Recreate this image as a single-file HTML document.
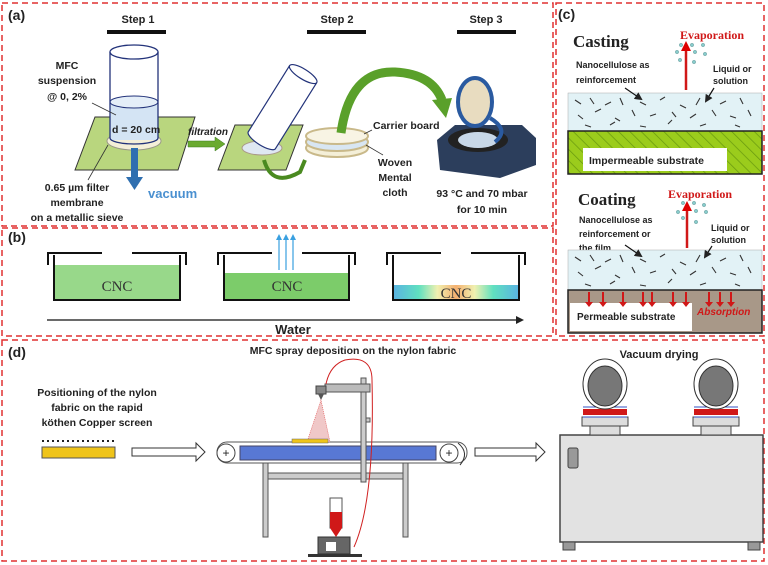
<!DOCTYPE html>
<html><head><meta charset="utf-8"><style>
html,body{margin:0;padding:0;background:#fff}
svg{display:block}
text{font-family:"Liberation Sans",Arial,sans-serif;font-weight:bold;fill:#222}
text.s{font-family:"Liberation Serif",serif}
</style></head><body>
<svg width="768" height="565" viewBox="0 0 768 565" xmlns="http://www.w3.org/2000/svg">
<defs>
<pattern id="hatch" width="8" height="8" patternUnits="userSpaceOnUse" patternTransform="rotate(-45)">
<rect width="8" height="8" fill="#9bcc1c"/><line x1="0" y1="0" x2="0" y2="8" stroke="#6a9a10" stroke-width="1.5"/></pattern>
<linearGradient id="cnc3" x1="0" x2="1"><stop offset="0" stop-color="#5ab4e0"/><stop offset="0.2" stop-color="#60e0c0"/><stop offset="0.35" stop-color="#f0f0b0"/><stop offset="0.5" stop-color="#f4b070"/><stop offset="0.65" stop-color="#f0f0b0"/><stop offset="0.8" stop-color="#60e0c0"/><stop offset="1" stop-color="#5ab4e0"/></linearGradient>
<marker id="ah" markerUnits="userSpaceOnUse" markerWidth="8" markerHeight="8" refX="6" refY="4" orient="auto"><path d="M0,0 L8,4 L0,8z" fill="#222"/></marker>
<marker id="ahr" markerUnits="userSpaceOnUse" markerWidth="10" markerHeight="10" refX="6" refY="5" orient="auto"><path d="M0,0 L10,5 L0,10z" fill="#d00"/></marker>
<marker id="ahb" markerUnits="userSpaceOnUse" markerWidth="6" markerHeight="6" refX="4" refY="3" orient="auto"><path d="M0,0 L6,3 L0,6z" fill="#3aa0e0"/></marker>
</defs>
<g fill="none" stroke="#e03030" stroke-width="1.5" stroke-dasharray="6,4">
<rect x="2" y="3" width="551" height="223"/>
<rect x="2" y="228" width="551" height="108"/>
<rect x="556" y="3" width="208" height="333"/>
<rect x="2" y="340" width="762" height="221"/>
</g>
<!-- (a) -->
<text x="8" y="20" font-size="14">(a)</text>
<text x="138" y="23" font-size="11" text-anchor="middle">Step 1</text>
<rect x="107" y="30" width="59" height="4" fill="#111"/>
<text x="337" y="23" font-size="11" text-anchor="middle">Step 2</text>
<rect x="307" y="30" width="59" height="4" fill="#111"/>
<text x="486" y="23" font-size="11" text-anchor="middle">Step 3</text>
<rect x="457" y="30" width="59" height="4" fill="#111"/>
<polygon points="75,170 95,117 195,117 178,170" fill="#b9d67e" stroke="#333"/>
<ellipse cx="134" cy="141" rx="27" ry="9" fill="#f4efd8" stroke="#998"/>
<rect x="110" y="102" width="48" height="38" fill="#d4e4f4"/>
<ellipse cx="134" cy="102" rx="24" ry="6" fill="#e4eef8" stroke="#23337a"/>
<path d="M110,52 V138 A24,6 0 0 0 158,138 V52" fill="none" stroke="#23337a" stroke-width="1.3"/>
<ellipse cx="134" cy="52" rx="24" ry="7" fill="#fff" stroke="#23337a" stroke-width="1.3"/>
<rect x="131" y="148" width="7" height="30" fill="#2f6fb0"/>
<polygon points="126,177 143,177 134.5,190" fill="#2f6fb0"/>
<text x="148" y="198" font-size="13" style="fill:#4a90d0">vacuum</text>
<g font-size="10.5" text-anchor="middle"><text x="67" y="69">MFC</text><text x="67" y="84">suspension</text><text x="67" y="100">@ 0, 2%</text>
<text x="77" y="191">0.65 µm filter</text><text x="77" y="206">membrane</text><text x="77" y="221">on a metallic sieve</text></g>
<text x="112" y="133" font-size="10.5">d = 20 cm</text>
<text x="188" y="135" font-size="10" font-style="italic">filtration</text>
<line x1="92" y1="103" x2="116" y2="115" stroke="#333" stroke-width="0.8"/>
<line x1="88" y1="180" x2="108" y2="145" stroke="#333" stroke-width="0.8"/>
<polygon points="188,141 215,141 215,137 225,144 215,151 215,147 188,147" fill="#6aaa30" stroke="#3a7a20" stroke-width="0.5"/>
<polygon points="218,170 235,125 303,125 286,170" fill="#b9d67e" stroke="#333"/>
<ellipse cx="262" cy="148" rx="20" ry="7" fill="#dfe8f2" stroke="#a98"/>
<g transform="rotate(32 282 108)"><path d="M266,68 V146 A16,5 0 0 0 298,146 V68" fill="#fff" stroke="#23337a" stroke-width="1.2"/><ellipse cx="282" cy="68" rx="16" ry="5" fill="#fff" stroke="#23337a" stroke-width="1.2"/></g>
<path d="M264,160 Q272,188 300,172 L305,160" fill="none" stroke="#4a8a20" stroke-width="4"/>
<ellipse cx="337" cy="148" rx="31" ry="9" fill="#f4efd8" stroke="#c9b98a" stroke-width="2"/>
<ellipse cx="337" cy="142" rx="31" ry="9" fill="#d8e6f2" stroke="#c9b98a" stroke-width="2"/>
<ellipse cx="337" cy="136" rx="31" ry="8" fill="#f8f4e4" stroke="#c9b98a" stroke-width="2"/>
<path d="M341,133 Q350,70 395,72 Q432,74 442,100" fill="none" stroke="#5aa02a" stroke-width="9"/>
<polygon points="432,100 452,98 446,118" fill="#5aa02a"/>
<text x="373" y="129" font-size="10.5">Carrier board</text>
<g font-size="10.5" text-anchor="middle"><text x="395" y="166">Woven</text><text x="395" y="181">Mental</text><text x="395" y="196">cloth</text>
<text x="482" y="197">93 °C and 70 mbar</text><text x="482" y="213">for 10 min</text></g>
<line x1="372" y1="130" x2="364" y2="134" stroke="#333" stroke-width="0.8"/>
<line x1="383" y1="155" x2="366" y2="145" stroke="#333" stroke-width="0.8"/>
<path d="M437,140 L455,125 L522,125 L536,138 L536,165 L500,178 L440,170 Z" fill="#2c3e5c"/>
<ellipse cx="478" cy="140" rx="30" ry="12" fill="#222"/>
<ellipse cx="478" cy="140" rx="20" ry="8" fill="#c8d8e8"/>
<ellipse cx="475" cy="102" rx="17" ry="24" fill="#e8dcc0" stroke="#2a5aa0" stroke-width="4"/>
<path d="M490,118 Q510,130 495,142" fill="none" stroke="#2a5aa0" stroke-width="4"/>
<!-- (b) -->
<text x="8" y="242" font-size="14">(b)</text>
<rect x="55" y="265" width="124" height="34" fill="#98d88a"/>
<rect x="225" y="273" width="123" height="26" fill="#7ccc6a"/>
<rect x="394" y="285" width="124" height="14" fill="url(#cnc3)"/>
<g stroke="#111" stroke-width="2" fill="none">
<path d="M48,265 V253 H102 M132,253 H186 V265"/><path d="M54,255 V300 H180 V255"/>
<path d="M218,265 V253 H272 M302,253 H355 V265"/><path d="M224,255 V300 H349 V255"/>
<path d="M387,265 V253 H441 M471,253 H525 V265"/><path d="M393,255 V300 H519 V255"/>
</g>
<g font-size="15" text-anchor="middle"><text class="s" x="117" y="291" style="font-weight:normal;fill:#333">CNC</text><text class="s" x="287" y="291" style="font-weight:normal;fill:#333">CNC</text><text class="s" x="456" y="298" style="font-weight:normal;fill:#333">CNC</text></g>
<g stroke="#3aa0e0" stroke-width="1.2"><line x1="279" y1="270" x2="279" y2="236" marker-end="url(#ahb)"/><line x1="286" y1="270" x2="286" y2="236" marker-end="url(#ahb)"/><line x1="293" y1="270" x2="293" y2="236" marker-end="url(#ahb)"/></g>
<line x1="47" y1="320" x2="522" y2="320" stroke="#111" stroke-width="1.2" marker-end="url(#ah)"/>
<text x="293" y="334" font-size="13" text-anchor="middle">Water</text>
<!-- (c) -->
<text x="558" y="19" font-size="14">(c)</text>
<text x="573" y="47" class="s" font-size="17">Casting</text>
<text x="712" y="39" class="s" font-size="12" text-anchor="middle" style="fill:#d01818">Evaporation</text>
<line x1="686" y1="90" x2="686" y2="45" stroke="#d01818" stroke-width="2.5" marker-end="url(#ahr)"/>
<g fill="#8cc" stroke="#699" stroke-width="0.5"><circle cx="681" cy="45" r="1.7"/><circle cx="692" cy="45" r="1.7"/><circle cx="703" cy="45" r="1.7"/><circle cx="677" cy="52" r="1.7"/><circle cx="695" cy="52" r="1.7"/><circle cx="705" cy="54" r="1.7"/><circle cx="680" cy="60" r="1.7"/><circle cx="694" cy="62" r="1.7"/></g>
<g font-size="9"><text x="576" y="68">Nanocellulose as</text><text x="576" y="83">reinforcement</text><text x="713" y="72">Liquid or</text><text x="713" y="84">solution</text>
<text x="579" y="223">Nanocellulose as</text><text x="579" y="237">reinforcement or</text><text x="579" y="251">the film</text><text x="711" y="231">Liquid or</text><text x="711" y="243">solution</text></g>
<rect x="568" y="93" width="194" height="38" fill="#e2f2f6" stroke="#aaa" stroke-width="0.5"/>
<rect x="568" y="250" width="194" height="40" fill="#e2f2f6" stroke="#aaa" stroke-width="0.5"/>
<g stroke="#333" stroke-width="1.1" fill="none">
<path d="M575,100 l6,4 M590,98 l4,6 M605,105 l6,-3 M620,98 l3,7 M640,102 l6,3 M660,100 l5,-3 M680,105 l6,3 M700,98 l-4,7 M720,104 l6,-3 M740,98 l3,6 M578,115 l5,4 M595,112 l6,-3 M615,118 l5,3 M632,110 l3,6 M650,116 l6,-2 M672,112 l4,5 M690,118 l6,-4 M712,110 l4,6 M730,116 l6,2 M748,110 l3,6 M585,125 l6,2 M610,125 l5,-3 M640,126 l6,1 M668,124 l4,-4 M700,126 l6,-2 M735,125 l5,2"/>
<path d="M575,257 l6,4 M590,255 l4,6 M605,262 l6,-3 M620,255 l3,7 M640,259 l6,3 M660,257 l5,-3 M680,262 l6,3 M700,255 l-4,7 M720,261 l6,-3 M740,255 l3,6 M578,272 l5,4 M595,269 l6,-3 M615,275 l5,3 M632,267 l3,6 M650,273 l6,-2 M672,269 l4,5 M690,275 l6,-4 M712,267 l4,6 M730,273 l6,2 M748,267 l3,6 M585,284 l6,2 M610,284 l5,-3 M640,285 l6,1 M668,283 l4,-4 M700,285 l6,-2 M735,284 l5,2"/>
</g>
<line x1="625" y1="88" x2="641" y2="99" stroke="#111" stroke-width="1.2" marker-end="url(#ah)"/>
<line x1="714" y1="88" x2="706" y2="101" stroke="#111" stroke-width="1.2" marker-end="url(#ah)"/>
<rect x="568" y="131" width="194" height="43" fill="url(#hatch)" stroke="#222" stroke-width="1.5"/>
<rect x="583" y="148" width="144" height="23" fill="#fff"/>
<text x="589" y="164" font-size="10.5">Impermeable substrate</text>
<text x="578" y="205" class="s" font-size="17">Coating</text>
<text x="700" y="198" class="s" font-size="12" text-anchor="middle" style="fill:#d01818">Evaporation</text>
<line x1="687" y1="248" x2="687" y2="205" stroke="#d01818" stroke-width="2.5" marker-end="url(#ahr)"/>
<g fill="#8cc" stroke="#699" stroke-width="0.5"><circle cx="683" cy="203" r="1.7"/><circle cx="694" cy="203" r="1.7"/><circle cx="704" cy="205" r="1.7"/><circle cx="678" cy="212" r="1.7"/><circle cx="696" cy="211" r="1.7"/><circle cx="706" cy="212" r="1.7"/><circle cx="683" cy="218" r="1.7"/><circle cx="696" cy="222" r="1.7"/></g>
<line x1="625" y1="245" x2="641" y2="256" stroke="#111" stroke-width="1.2" marker-end="url(#ah)"/>
<line x1="712" y1="246" x2="705" y2="257" stroke="#111" stroke-width="1.2" marker-end="url(#ah)"/>
<rect x="568" y="290" width="194" height="43" fill="#a89888" stroke="#222" stroke-width="1.5"/>
<rect x="570" y="303" width="122" height="28" fill="#fff"/>
<text x="577" y="320" font-size="10">Permeable substrate</text>
<text x="697" y="315" font-size="10" font-style="italic" style="fill:#d01818">Absorption</text>
<g stroke="#d01818" stroke-width="2"><path d="M589,292v11M603,292v11M623,292v11M643,292v11M652,292v11M673,292v11M686,292v11M709,292v11M720,292v11M731,292v11"/></g>
<g fill="#d01818"><path d="M585,302h8l-4,5zM599,302h8l-4,5zM619,302h8l-4,5zM639,302h8l-4,5zM648,302h8l-4,5zM669,302h8l-4,5zM682,302h8l-4,5zM705,302h8l-4,5zM716,302h8l-4,5zM727,302h8l-4,5z"/></g>
<!-- (d) -->
<text x="8" y="357" font-size="14">(d)</text>
<text x="353" y="354" font-size="10.5" text-anchor="middle">MFC spray deposition on the nylon fabric</text>
<text x="659" y="358" font-size="11" text-anchor="middle">Vacuum drying</text>
<g font-size="10.5" text-anchor="middle"><text x="97" y="396">Positioning of the nylon</text><text x="97" y="411">fabric on the rapid</text><text x="97" y="426">köthen Copper screen</text></g>
<line x1="42" y1="441" x2="115" y2="441" stroke="#222" stroke-width="2" stroke-dasharray="2,3"/>
<rect x="42" y="447" width="73" height="11" fill="#efc41a" stroke="#555"/>
<polygon points="132,448 196,448 196,443 205,452 196,461 196,456 132,456" fill="#fff" stroke="#333"/>
<polygon points="475,448 536,448 536,443 545,452 536,461 536,456 475,456" fill="#fff" stroke="#333"/>
<rect x="217" y="442" width="250" height="21" rx="10" fill="#fff" stroke="#555"/>
<rect x="240" y="446" width="196" height="14" fill="#5878d4" stroke="#446"/>
<circle cx="226" cy="453" r="9" fill="#fff" stroke="#444"/><text x="226" y="457" font-size="12" text-anchor="middle" style="font-weight:normal">+</text>
<circle cx="449" cy="453" r="9" fill="#fff" stroke="#444"/><text x="449" y="457" font-size="12" text-anchor="middle" style="font-weight:normal">+</text>
<path d="M458,443 Q470,453 460,465" fill="none" stroke="#333"/>
<g fill="#ccc" stroke="#555"><rect x="263" y="463" width="5" height="74"/><rect x="403" y="463" width="5" height="74"/><rect x="268" y="473" width="135" height="6"/><rect x="361" y="378" width="5" height="104"/><rect x="366" y="418" width="4" height="4"/></g>
<rect x="325" y="384" width="45" height="8" fill="#bbb" stroke="#555"/>
<rect x="316" y="386" width="10" height="8" fill="#888" stroke="#444"/>
<polygon points="318,394 324,394 321,400" fill="#555"/>
<polygon points="321,400 307,442 330,442" fill="#f0c8c8" stroke="#e05050" stroke-width="0.6" stroke-dasharray="1,1"/>
<rect x="292" y="439" width="36" height="4" fill="#efc41a" stroke="#666" stroke-width="0.5"/>
<path d="M354,547 Q375,500 372,380 Q372,355 345,360 Q330,365 326,384" fill="none" stroke="#d02020" stroke-width="1"/>
<rect x="330" y="498" width="12" height="30" fill="#fff" stroke="#555"/>
<rect x="330" y="512" width="12" height="16" fill="#d01818"/>
<polygon points="330,528 342,528 336,537" fill="#d01818"/>
<rect x="318" y="537" width="32" height="17" fill="#666" stroke="#333"/>
<rect x="308" y="554" width="54" height="3" fill="#333"/>
<rect x="326" y="542" width="10" height="9" fill="#fff"/>
<rect x="560" y="435" width="203" height="107" fill="#e2e2e2" stroke="#444" stroke-width="1.5"/>
<rect x="568" y="448" width="10" height="20" rx="2" fill="#999" stroke="#444"/>
<rect x="563" y="542" width="12" height="8" fill="#999" stroke="#444"/><rect x="748" y="542" width="12" height="8" fill="#999" stroke="#444"/>
<g id="dv"><rect x="590" y="425" width="30" height="10" fill="#ddd" stroke="#444"/><rect x="582" y="417" width="46" height="9" fill="#ddd" stroke="#444"/>
<rect x="583" y="409" width="44" height="6" fill="#d01818"/><line x1="583" y1="407" x2="627" y2="407" stroke="#3050c0"/><line x1="583" y1="417" x2="627" y2="417" stroke="#3050c0"/>
<ellipse cx="605" cy="384" rx="22" ry="25" fill="#fff" stroke="#333"/><ellipse cx="605" cy="386" rx="17" ry="20" fill="#777" stroke="#333"/></g>
<use href="#dv" transform="translate(111 0)"/>
</svg>
</body></html>
